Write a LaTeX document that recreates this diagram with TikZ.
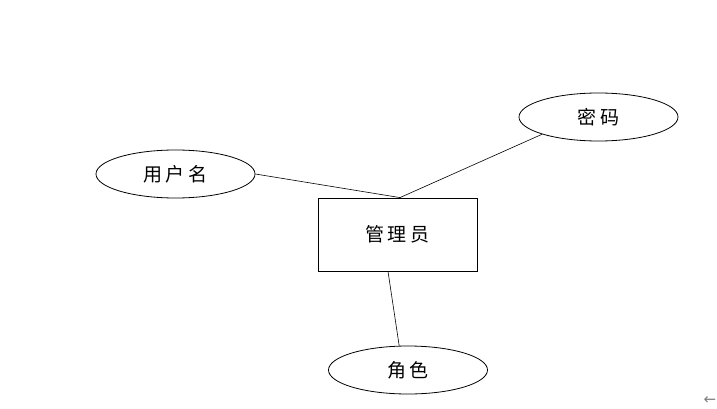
\documentclass[tikz,border=0pt]{standalone}
\usepackage{fontspec}
\newfontfamily\cjk{Noto Sans CJK SC}
\newfontfamily\symfont{DejaVu Sans}
\usetikzlibrary{shapes.geometric,calc}
\begin{document}
\begin{tikzpicture}[x=1pt, y=-1pt,
    entity/.style={draw, rectangle, line width=0.8pt, inner sep=0pt,
        minimum width=159pt, minimum height=73pt, font=\cjk\fontsize{19}{22}\selectfont},
    attr/.style={draw, ellipse, line width=0.8pt, inner sep=0pt,
        minimum width=159pt, minimum height=48pt, font=\cjk\fontsize{19}{22}\selectfont},
    link/.style={line width=0.6pt}]
                \useasboundingbox (0,0) rectangle (717,409);
                
                % Entity
                \node[entity] (admin) at (397.5,234.5) {管\,理\,员};
                
                % Attributes
                \node[attr] (user) at (175.5,174) {用\,户\,名};
                \node[attr] (pwd) at (598.5,117) {密\,码};
                \node[attr] (role) at (408,370) {角\,色};
                
                % Links
                \coordinate (top) at ($(admin.north)+(2.5,0)$);
                \coordinate (bot) at ($(admin.south)+(-9.5,0)$);
                \draw[link] (user.east) -- (top);
                \draw[link] (pwd.197) -- (top);
                \draw[link] (bot) -- (role.110);
                
                \node[text=gray, font=\symfont\fontsize{15}{15}\selectfont] (back) at (710,401) {←};
            \end{tikzpicture}
\end{document}
